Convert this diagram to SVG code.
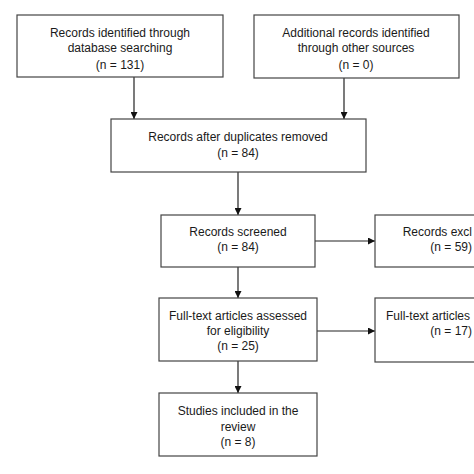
<svg xmlns="http://www.w3.org/2000/svg" width="474" height="474" viewBox="0 0 474 474">
<defs>
<marker id="ah" viewBox="0 0 10 10" refX="10" refY="5" markerWidth="7" markerHeight="7" markerUnits="userSpaceOnUse" orient="auto">
<path d="M0,0 L10,5 L0,10 z" fill="#111"/>
</marker>
<style>
.box{fill:#fff;stroke:#444;stroke-width:1.2}
.t{font-family:"Liberation Sans",Arial,sans-serif;font-size:12px;fill:#1a1a1a;text-anchor:middle}
.ts{font-family:"Liberation Sans",Arial,sans-serif;font-size:12px;fill:#1a1a1a;text-anchor:end}
.c{stroke:#222;stroke-width:1.2;fill:none;marker-end:url(#ah)}
</style>
</defs>
<rect width="474" height="474" fill="#fff"/>
<g id="connectors">
<line class="c" x1="134" y1="77" x2="134" y2="119"/>
<line class="c" x1="344" y1="78" x2="344" y2="119"/>
<line class="c" x1="238" y1="172" x2="238" y2="215"/>
<line class="c" x1="315" y1="241" x2="375" y2="241"/>
<line class="c" x1="238" y1="267" x2="238" y2="298"/>
<line class="c" x1="317" y1="331" x2="375" y2="331"/>
<line class="c" x1="238" y1="361" x2="238" y2="393"/>
</g>
<g id="n1">
<rect class="box" x="17" y="15" width="206" height="62"/>
<text class="t" x="120" y="37">Records identified through</text>
<text class="t" x="120" y="52">database searching</text>
<text class="t" x="120" y="69">(n = 131)</text>
</g>
<g id="n2">
<rect class="box" x="254" y="15" width="205" height="63"/>
<text class="t" x="356" y="37">Additional records identified</text>
<text class="t" x="356" y="52">through other sources</text>
<text class="t" x="356" y="69">(n = 0)</text>
</g>
<g id="n3">
<rect class="box" x="111" y="119" width="255" height="53"/>
<text class="t" x="238" y="141">Records after duplicates removed</text>
<text class="t" x="238" y="157">(n = 84)</text>
</g>
<g id="n4">
<rect class="box" x="161" y="215" width="154" height="52"/>
<text class="t" x="238" y="236">Records screened</text>
<text class="t" x="238" y="251">(n = 84)</text>
</g>
<g id="n5">
<rect class="box" x="375" y="215" width="110" height="52"/>
<text class="ts" x="472" y="236">Records excl</text>
<text class="ts" x="472" y="251">(n = 59)</text>
</g>
<g id="n6">
<rect class="box" x="159" y="298" width="158" height="63"/>
<text class="t" x="238" y="320">Full-text articles assessed</text>
<text class="t" x="238" y="335">for eligibility</text>
<text class="t" x="238" y="350">(n = 25)</text>
</g>
<g id="n7">
<rect class="box" x="375" y="298" width="110" height="64"/>
<text class="ts" x="470" y="320">Full-text articles</text>
<text class="ts" x="472" y="335">(n = 17)</text>
</g>
<g id="n8">
<rect class="box" x="159" y="393" width="158" height="63"/>
<text class="t" x="238" y="415">Studies included in the</text>
<text class="t" x="238" y="431">review</text>
<text class="t" x="238" y="446">(n = 8)</text>
</g>
</svg>
